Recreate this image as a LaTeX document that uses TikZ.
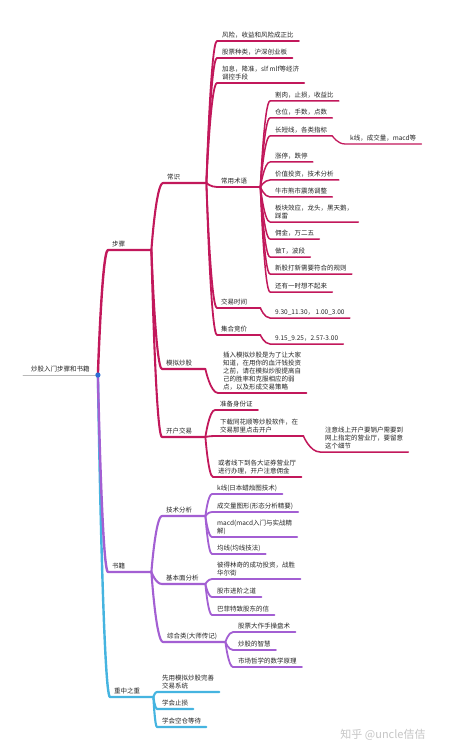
\documentclass[tikz,border=0pt]{standalone}
\usepackage{fontspec}
\setmainfont{Noto Sans CJK SC}
\usetikzlibrary{calc}
\definecolor{crim}{HTML}{C2185B}
\definecolor{lilac}{HTML}{A35FD3}
\definecolor{sky}{HTML}{45B4E0}
\definecolor{dotblue}{HTML}{2C6ED5}
\begin{document}
\begin{tikzpicture}[x=1pt, y=-1pt,
  every node/.style={font=\fontsize{6.5}{8}\selectfont, anchor=south west,
                     inner ysep=2.5pt, text=black!85},
  root/.style={inner xsep=8pt},
  topic/.style={inner xsep=4pt, text width=35pt, align=left},
  item/.style={inner xsep=5pt, align=left},
  branch/.style={to path={.. controls (\tikztostart) and
                 ($(\tikztostart|-\tikztotarget)!0.4!(\tikztotarget)$) .. (\tikztotarget)}},
  wire/.style={line cap=round, line join=round},
]
\fill[white] (0,0) rectangle (448,751);
\useasboundingbox (0,0) rectangle (448,751);
% root and first level
\node[root] (rt) at (23,375) {炒股入门步骤和书籍};
\node[topic] (bz) at (108,250) {步骤};
\node[topic] (sj) at (108,572) {书籍};
\node[topic] (zz) at (110,697) {重中之重};
% steps
\node[topic] (cs) at (163,183) {常识};
\node[topic] (mn) at (162,369) {模拟炒股};
\node[topic] (kh) at (162,437) {开户交易};
\node[item] (fx) at (217,41) {风险，收益和风险成正比};
\node[item] (zl) at (217,58) {股票种类，沪深创业板};
\node[item] (jx) at (217,83) {加息，降准，slf mlf等经济\\调控手段};
\node[topic] (sy) at (217,187) {常用术语};
\node[topic] (jy) at (217,308) {交易时间};
\node[topic] (jh) at (217,335) {集合竞价};
\node[item] (t1) at (270,101) {割肉，止损，收益比};
\node[item] (t2) at (270,118) {仓位，手数，点数};
\node[item] (t3) at (270,136) {长短线，各类指标};
\node[item] (t4) at (270,162) {涨停，跌停};
\node[item] (t5) at (270,180) {价值投资，技术分析};
\node[item] (t6) at (270,197) {牛市熊市震荡调整};
\node[item] (t7) at (270,222) {板块效应，龙头，黑天鹅，\\踩雷};
\node[item] (t8) at (270,239) {佣金，万二五};
\node[item] (t9) at (270,257) {做T，波段};
\node[item] (t10) at (270,274) {新股打新需要符合的规则};
\node[item] (t11) at (270,292) {还有一时想不起来};
\node[item] (zb) at (345,144) {k线，成交量，macd等};
\node[item] (jy1) at (270,318) {9.30\_11.30，\ 1.00\_3.00};
\node[item] (jh1) at (270,344) {9.15\_9.25，2.57-3.00};
\node[item] (mn1) at (218,393) {插入模拟炒股是为了让大家\\知道，在用你的血汗钱投资\\之前，请在模拟炒股提高自\\己的胜率和克服相应的弱\\点，以及形成交易策略};
\node[item] (k1) at (215,410) {准备身份证};
\node[item] (k2) at (215,436) {下载同花顺等炒股软件，在\\交易那里点击开户};
\node[item] (k3) at (213,477) {或者线下到各大证券营业厅\\进行办理，开户注意佣金};
\node[item] (k4) at (320,452) {注意线上开户要销户需要到\\网上指定的营业厅，要留意\\这个细节};
% books
\node[topic] (js) at (162,516) {技术分析};
\node[topic] (jb) at (162,584) {基本面分析};
\node[topic, text width=54pt] (zh) at (163,642) {综合类(大师传记)};
\node[item] (b1) at (212,494) {k线(日本蜡烛图技术)};
\node[item] (b2) at (212,512) {成交量图形(形态分析精要)};
\node[item] (b3) at (212,537) {macd(macd入门与实战精\\解)};
\node[item] (b4) at (212,554) {均线(均线技法)};
\node[item] (b5) at (212,579) {彼得林奇的成功投资，战胜\\华尔街};
\node[item] (b6) at (212,597) {股市进阶之道};
\node[item] (b7) at (212,615) {巴菲特致股东的信};
\node[item] (b8) at (233,632) {股票大作手操盘术};
\node[item] (b9) at (233,650) {炒股的智慧};
\node[item] (b10) at (233,667) {市场哲学的数学原理};
% most important
\node[item] (z1) at (157,692) {先用模拟炒股完善\\交易系统};
\node[item] (z2) at (157,709) {学会止损};
\node[item] (z3) at (157,727) {学会空仓等待};
\node[anchor=center, font=\fontsize{11}{13}\selectfont, text=gray!45] (wm) at (383,735) {知乎 @uncle佶佶};
% connectors
\draw[wire, gray!55, line width=0.8pt] (rt.south west) -- (rt.south east);
\draw[wire, sky, line width=2.4pt] (rt.south east) to[branch] (zz.south west) -- (zz.south east);
\draw[wire, lilac, line width=2.4pt] (rt.south east) to[branch] (sj.south west) -- (sj.south east);
\draw[wire, crim, line width=2.4pt] (rt.south east) to[branch] (bz.south west) -- (bz.south east);
\foreach \c in {cs,mn,kh}
  \draw[wire, crim, line width=2.1pt] (bz.south east) to[branch] (\c.south west) -- (\c.south east);
\foreach \c in {fx,zl,jx,sy,jy,jh}
  \draw[wire, crim, line width=1.8pt] (cs.south east) to[branch] (\c.south west) -- (\c.south east);
\foreach \c in {1,...,11}
  \draw[wire, crim, line width=1.5pt] (sy.south east) to[branch] (t\c.south west) -- (t\c.south east);
\draw[wire, crim, line width=1.3pt] (t3.south east) to[branch] (zb.south west) -- (zb.south east);
\draw[wire, crim, line width=1.5pt] (jy.south east) to[branch] (jy1.south west) -- (jy1.south east);
\draw[wire, crim, line width=1.5pt] (jh.south east) to[branch] (jh1.south west) -- (jh1.south east);
\draw[wire, crim, line width=1.8pt] (mn.south east) to[branch] (mn1.south west) -- (mn1.south east);
\foreach \c in {k1,k2,k3}
  \draw[wire, crim, line width=1.8pt] (kh.south east) to[branch] (\c.south west) -- (\c.south east);
\draw[wire, crim, line width=1.5pt] (k2.south east) to[branch] (k4.south west) -- (k4.south east);
\foreach \c in {js,jb,zh}
  \draw[wire, lilac, line width=2.1pt] (sj.south east) to[branch] (\c.south west) -- (\c.south east);
\foreach \c in {b1,b2,b3,b4}
  \draw[wire, lilac, line width=1.8pt] (js.south east) to[branch] (\c.south west) -- (\c.south east);
\foreach \c in {b5,b6,b7}
  \draw[wire, lilac, line width=1.8pt] (jb.south east) to[branch] (\c.south west) -- (\c.south east);
\foreach \c in {b8,b9,b10}
  \draw[wire, lilac, line width=1.8pt] (zh.south east) to[branch] (\c.south west) -- (\c.south east);
\foreach \c in {z1,z2,z3}
  \draw[wire, sky, line width=2.1pt] (zz.south east) to[branch] (\c.south west) -- (\c.south east);
\fill[dotblue] (rt.south east) circle (2.6pt);
\end{tikzpicture}
\end{document}
